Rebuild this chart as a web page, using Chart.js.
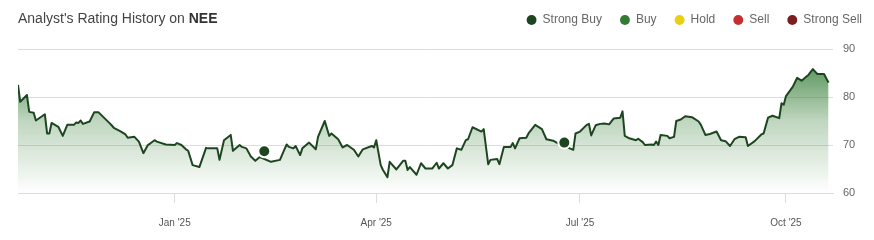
<!DOCTYPE html>
<html>
<head>
<meta charset="utf-8">
<script src="https://cdn.jsdelivr.net/npm/chart.js@4/dist/chart.umd.min.js"></script>
<style>
  html, body { margin: 0; padding: 0; background: #fff; }
  .wrap { position: relative; width: 874px; height: 240px; }
  .title {
    position: absolute; left: 18px; top: 10px;
    font: 14px "Liberation Sans", Arial, sans-serif; color: #444;
  }
  .title b { color: #333; }
</style>
</head>
<body>
<div class="wrap">
  <div class="title">Analyst's Rating History on <b>NEE</b></div>
  <canvas id="ratingChart" width="874" height="240"></canvas>
</div>
<script>
const dates = [
  '2024-10-23', '2024-10-24', '2024-10-27', '2024-10-28', '2024-10-30', '2024-10-31',
  '2024-11-04', '2024-11-05', '2024-11-06', '2024-11-07', '2024-11-10', '2024-11-12',
  '2024-11-14', '2024-11-17', '2024-11-18', '2024-11-19', '2024-11-20', '2024-11-21',
  '2024-11-24', '2024-11-26', '2024-11-28', '2024-12-03', '2024-12-04', '2024-12-05',
  '2024-12-08', '2024-12-10', '2024-12-11', '2024-12-14', '2024-12-16', '2024-12-18',
  '2024-12-20', '2024-12-21', '2024-12-23', '2024-12-24', '2024-12-28', '2025-01-01',
  '2025-01-02', '2025-01-04', '2025-01-06', '2025-01-07', '2025-01-09', '2025-01-12',
  '2025-01-15', '2025-01-16', '2025-01-20', '2025-01-21', '2025-01-23', '2025-01-26',
  '2025-01-27', '2025-01-30', '2025-01-31', '2025-02-02', '2025-02-04', '2025-02-06',
  '2025-02-08', '2025-02-13', '2025-02-17', '2025-02-19', '2025-02-20', '2025-02-21',
  '2025-02-23', '2025-02-24', '2025-02-26', '2025-02-27', '2025-03-02', '2025-03-05',
  '2025-03-06', '2025-03-09', '2025-03-11', '2025-03-12', '2025-03-15', '2025-03-17',
  '2025-03-19', '2025-03-22', '2025-03-24', '2025-03-26', '2025-03-30', '2025-03-31',
  '2025-04-01', '2025-04-03', '2025-04-04', '2025-04-06', '2025-04-07', '2025-04-10',
  '2025-04-13', '2025-04-14', '2025-04-15', '2025-04-16', '2025-04-19', '2025-04-21',
  '2025-04-23', '2025-04-26', '2025-04-28', '2025-04-29', '2025-05-01', '2025-05-03',
  '2025-05-05', '2025-05-07', '2025-05-09', '2025-05-11', '2025-05-12', '2025-05-14',
  '2025-05-18', '2025-05-19', '2025-05-21', '2025-05-22', '2025-05-25', '2025-05-26',
  '2025-05-28', '2025-05-31', '2025-06-01', '2025-06-02', '2025-06-04', '2025-06-07',
  '2025-06-08', '2025-06-11', '2025-06-14', '2025-06-16', '2025-06-19', '2025-06-21',
  '2025-06-28', '2025-06-29', '2025-07-01', '2025-07-04', '2025-07-05', '2025-07-06',
  '2025-07-08', '2025-07-10', '2025-07-12', '2025-07-14', '2025-07-16', '2025-07-19',
  '2025-07-20', '2025-07-21', '2025-07-23', '2025-07-26', '2025-07-27', '2025-07-29',
  '2025-07-30', '2025-08-02', '2025-08-03', '2025-08-04', '2025-08-05', '2025-08-06',
  '2025-08-09', '2025-08-10', '2025-08-12', '2025-08-13', '2025-08-15', '2025-08-17',
  '2025-08-20', '2025-08-23', '2025-08-24', '2025-08-26', '2025-08-28', '2025-08-31',
  '2025-09-02', '2025-09-04', '2025-09-06', '2025-09-08', '2025-09-10', '2025-09-13',
  '2025-09-14', '2025-09-17', '2025-09-20', '2025-09-21', '2025-09-23', '2025-09-25',
  '2025-09-28', '2025-09-29', '2025-09-30', '2025-10-01', '2025-10-04', '2025-10-06',
  '2025-10-08', '2025-10-10', '2025-10-11', '2025-10-13', '2025-10-15', '2025-10-18',
  '2025-10-20',
];

const prices = [
  82.5, 79.0, 80.4, 76.9, 76.7, 75.1,
  76.4, 72.4, 72.4, 74.6, 73.8, 71.9,
  74.2, 74.2, 74.7, 74.6, 75.1, 74.4,
  74.9, 76.8, 76.8, 74.5, 74.0, 73.5,
  72.8, 72.2, 71.5, 71.7, 70.7, 68.3,
  70.0, 70.3, 71.0, 70.7, 70.1, 70.0,
  70.4, 70.0, 69.1, 68.8, 65.8, 65.4,
  69.4, 69.3, 69.3, 66.9, 71.0, 72.1,
  68.8, 70.0, 69.6, 69.3, 67.6, 66.7,
  67.5, 66.5, 66.9, 69.1, 70.1, 69.6,
  69.3, 69.8, 67.9, 69.3, 70.5, 69.1,
  71.7, 75.0, 71.9, 72.4, 71.2, 69.5,
  70.0, 69.0, 67.6, 69.1, 69.8, 69.5,
  71.0, 65.8, 64.8, 63.3, 66.5, 64.9,
  66.7, 66.7, 64.8, 65.4, 63.8, 66.2,
  65.1, 65.1, 66.3, 65.1, 66.2, 65.1,
  65.8, 69.3, 69.0, 71.0, 71.2, 73.7,
  72.8, 73.3, 66.0, 66.9, 67.1, 66.0,
  69.6, 69.6, 70.4, 69.3, 71.4, 71.5,
  72.4, 74.2, 73.3, 71.2, 70.9, 70.4,
  69.0, 72.4, 72.8, 74.2, 74.4, 72.0,
  74.1, 74.4, 74.5, 74.3, 75.5, 75.7,
  77.0, 71.9, 71.4, 71.0, 71.3, 70.6,
  70.0, 70.1, 70.0, 70.7, 70.0, 72.1,
  71.9, 71.4, 71.7, 75.0, 75.3, 76.0,
  75.8, 74.9, 74.2, 72.1, 72.3, 72.8,
  71.0, 70.8, 69.8, 71.2, 71.7, 71.6,
  69.8, 70.8, 72.2, 72.4, 75.7, 76.1,
  75.6, 78.7, 78.4, 80.2, 82.1, 84.0,
  83.4, 84.2, 84.6, 85.8, 84.8, 84.8,
  83.0,
];

// rating events (both "Strong Buy")
const ratingDates = ['2025-02-10', '2025-06-24'];
const ratingValues = [68.7, 70.5];

const ratingNames = ['Strong Buy', 'Buy', 'Hold', 'Sell', 'Strong Sell'];
const ratingColors = ['#1d4620', '#357a32', '#e8cf12', '#c62f2f', '#7d1e1e'];

const tickDates = ['2025-01-01', '2025-04-01', '2025-07-01', '2025-10-01'];
const tickLabels = ["Jan '25", "Apr '25", "Jul '25", "Oct '25"];

const yTicks = [60, 70, 80, 90];

// x is counted in days from 1 Jan 2025
const DAY = 86400000;
const base = Date.parse('2025-01-01');
const toDay = (s) => (Date.parse(s) - base) / DAY;

const font = '"Liberation Sans", Arial, sans-serif';
const lineColor = '#1d4620';

// move the legend row up into the title line and flush to the right edge
const legendNudge = {
  id: 'legendNudge',
  afterLayout(chart) {
    const lg = chart.legend;
    if (!lg) return;
    lg.top -= 13;
    lg.bottom -= 13;
    lg.left += 6;
    lg.right += 6;
  },
};

const ctx = document.getElementById('ratingChart').getContext('2d');

new Chart(ctx, {
  type: 'line',
  data: {
    datasets: [
      {
        type: 'scatter',
        label: 'Strong Buy',
        data: ratingDates.map((d, i) => ({ x: toDay(d), y: ratingValues[i] })),
        pointRadius: 6,
        pointBackgroundColor: ratingColors[0],
        pointBorderColor: '#fff',
        pointBorderWidth: 2,
        order: 0,
      },
      {
        label: 'Price',
        data: dates.map((d, i) => ({ x: toDay(d), y: prices[i] })),
        borderColor: lineColor,
        borderWidth: 2,
        borderJoinStyle: 'round',
        pointRadius: 0,
        tension: 0,
        fill: 'start',
        backgroundColor: (c) => {
          const area = c.chart.chartArea;
          if (!area) return 'rgba(45,120,45,0.3)';
          const g = c.chart.ctx.createLinearGradient(0, area.top, 0, area.bottom);
          g.addColorStop(0, 'rgba(45,120,45,0.92)');
          g.addColorStop(0.5, 'rgba(45,120,45,0.3)');
          g.addColorStop(1, 'rgba(45,120,45,0)');
          return g;
        },
        order: 1,
      },
    ],
  },
  options: {
    responsive: false,
    animation: false,
    layout: { padding: { left: 18, right: 0, top: 9, bottom: 0 } },
    plugins: {
      tooltip: { enabled: false },
      legend: {
        position: 'top',
        align: 'end',
        onClick: () => {},
        labels: {
          usePointStyle: true,
          pointStyle: 'circle',
          boxWidth: 10,
          boxHeight: 7,
          padding: 18,
          color: '#666',
          font: { family: font, size: 12 },
          generateLabels: () =>
            ratingNames.map((name, i) => ({
              text: name,
              fillStyle: ratingColors[i],
              strokeStyle: ratingColors[i],
              lineWidth: 0,
              pointStyle: 'circle',
              fontColor: '#666',
            })),
        },
      },
    },
    scales: {
      x: {
        type: 'linear',
        min: toDay(dates[0]),
        max: toDay(dates[dates.length - 1]) + 2,
        afterBuildTicks: (axis) => {
          axis.ticks = tickDates.map((d) => ({ value: toDay(d) }));
        },
        afterFit: (axis) => {
          axis.height = 47;
        },
        grid: {
          drawOnChartArea: false,
          drawTicks: true,
          tickLength: 10,
          color: '#ddd',
        },
        border: { color: '#ddd' },
        ticks: {
          padding: 14,
          maxRotation: 0,
          color: '#555',
          font: { family: font, size: 10 },
          callback: (v, i) => tickLabels[i],
        },
      },
      y: {
        position: 'right',
        min: yTicks[0],
        max: yTicks[yTicks.length - 1],
        afterBuildTicks: (axis) => {
          axis.ticks = yTicks.map((v) => ({ value: v }));
        },
        afterFit: (axis) => {
          axis.width = 41;
        },
        grid: { color: '#ddd', drawTicks: false },
        border: { display: false },
        ticks: {
          padding: 10,
          color: '#666',
          font: { family: font, size: 11 },
        },
      },
    },
  },
  plugins: [legendNudge],
});
</script>
</body>
</html>
